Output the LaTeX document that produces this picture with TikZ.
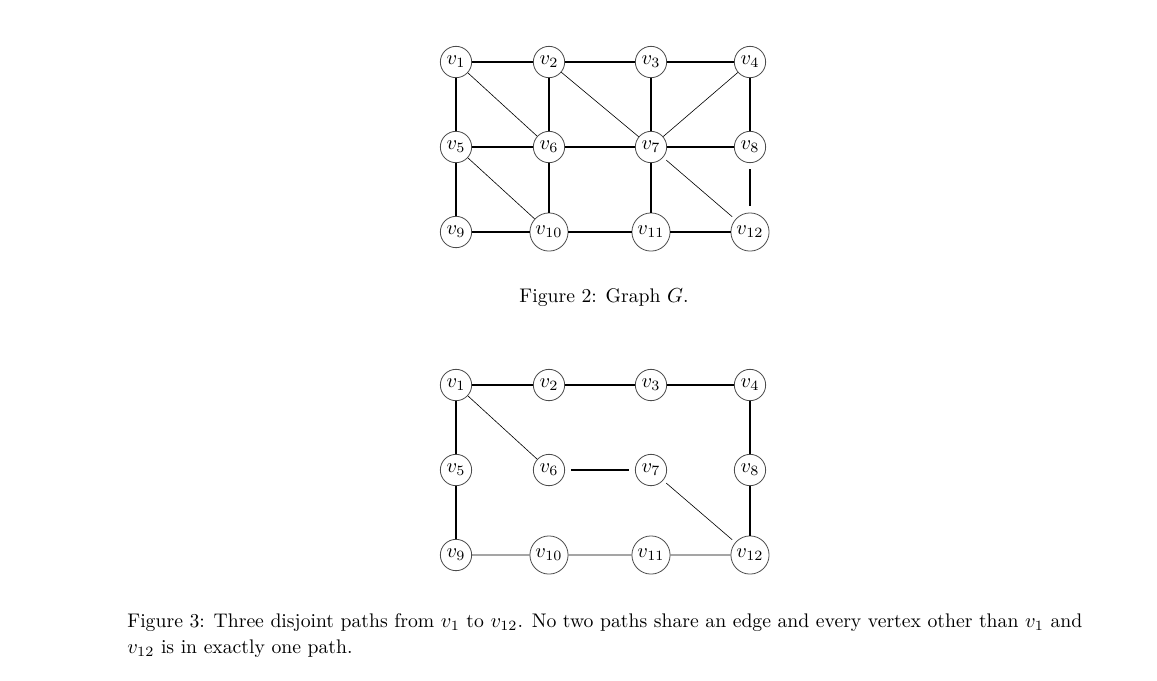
\documentclass[tikz,border=0pt]{standalone}
\begin{document}
\begin{tikzpicture}[x=0.4926pt,y=-0.4926pt,
  vx/.style={circle,draw=black!70,inner sep=1.6pt,minimum size=14pt,font=\fontsize{9.7}{12}\selectfont},
  e/.style={line width=0.8pt,shorten <=3pt,shorten >=3pt},
  d/.style={line width=0.3pt,shorten <=2pt,shorten >=2pt}]
\useasboundingbox (0,0) rectangle (1157,680);
% Figure 2
\node[vx] (a1) at (456,62) {$v_1$};
\node[vx] (a2) at (549,62) {$v_2$};
\node[vx] (a3) at (651,62) {$v_3$};
\node[vx] (a4) at (750,62) {$v_4$};
\node[vx] (a5) at (456,147) {$v_5$};
\node[vx] (a6) at (549,147) {$v_6$};
\node[vx] (a7) at (651,147) {$v_7$};
\node[vx] (a8) at (750,147) {$v_8$};
\node[vx] (a9) at (456,232) {$v_9$};
\node[vx] (a10) at (549,232) {$v_{10}$};
\node[vx] (a11) at (651,232) {$v_{11}$};
\node[vx] (a12) at (750,232) {$v_{12}$};
\draw[e] (a1)--(a2) (a2)--(a3) (a3)--(a4) (a5)--(a6) (a6)--(a7) (a7)--(a8) (a9)--(a10) (a10)--(a11) (a11)--(a12)
 (a1)--(a5) (a5)--(a9) (a2)--(a6) (a6)--(a10) (a3)--(a7) (a7)--(a11) (a4)--(a8) (a8)--(a12);
\draw[d] (a1)--(a6) (a2)--(a7) (a4)--(a7) (a5)--(a10) (a7)--(a12);
\node[font=\fontsize{9.7}{12}\selectfont] (cap2) at (604,298) {Figure 2: Graph $G$.};
% Figure 3
\node[vx] (b1) at (456,385) {$v_1$};
\node[vx] (b2) at (549,385) {$v_2$};
\node[vx] (b3) at (651,385) {$v_3$};
\node[vx] (b4) at (750,385) {$v_4$};
\node[vx] (b5) at (456,470) {$v_5$};
\node[vx] (b6) at (549,470) {$v_6$};
\node[vx] (b7) at (651,470) {$v_7$};
\node[vx] (b8) at (750,470) {$v_8$};
\node[vx] (b9) at (456,555) {$v_9$};
\node[vx] (b10) at (549,555) {$v_{10}$};
\node[vx] (b11) at (651,555) {$v_{11}$};
\node[vx] (b12) at (750,555) {$v_{12}$};
\draw[e] (b1)--(b2) (b2)--(b3) (b3)--(b4) (b4)--(b8) (b8)--(b12) (b1)--(b5) (b5)--(b9) (b6)--(b7);
\draw[d] (b9)--(b10) (b10)--(b11) (b11)--(b12) (b1)--(b6) (b7)--(b12);
\node[anchor=north west,align=left,inner sep=0pt,font=\fontsize{9.7}{12.8}\selectfont] (cap3) at (127,613) {Figure 3: Three disjoint paths from $v_1$ to $v_{12}$. No two paths share an edge and every vertex other than $v_1$ and\\ $v_{12}$ is in exactly one path.};
\end{tikzpicture}
\end{document}
